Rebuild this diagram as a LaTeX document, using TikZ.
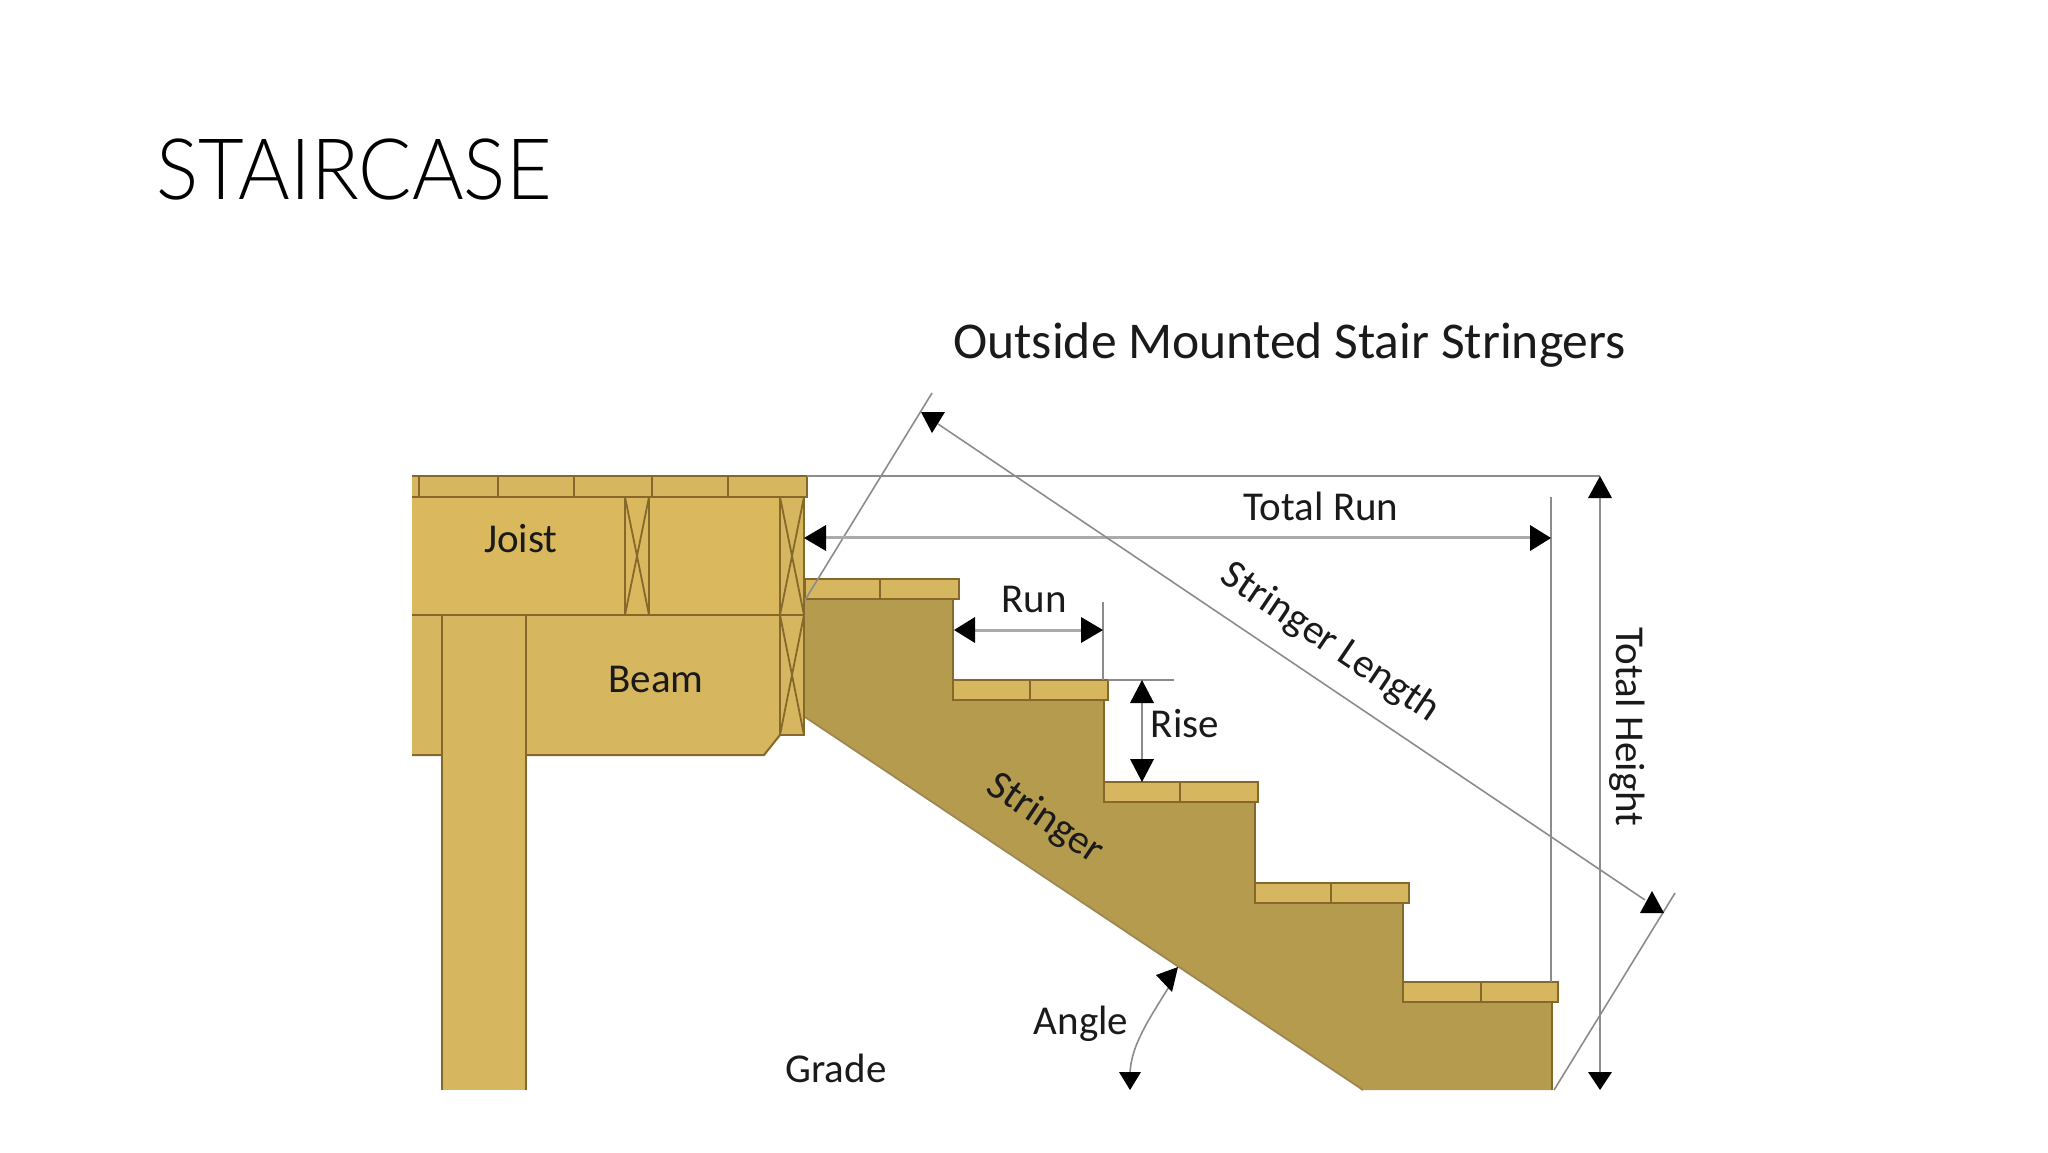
\documentclass[tikz,border=0pt]{standalone}
\usepackage{fontspec}
\setmainfont{Carlito}
\newfontfamily\titlefont{Lato}[UprightFont=* Light,FakeStretch=0.93]
\definecolor{wood}{HTML}{D6B65E}
\definecolor{woodlt}{HTML}{DBB95C}
\definecolor{stringerc}{HTML}{B59B4E}
\definecolor{edge}{HTML}{86692A}
\definecolor{dimc}{HTML}{8C8C8C}
\definecolor{ink}{HTML}{1A1A1A}
\tikzset{
  woodpart/.style={fill=wood,draw=edge,line width=1pt,line join=miter},
  tread/.style={fill=wood,draw=edge,line width=1.1pt},
  stringerpart/.style={fill=stringerc,draw=none},
  seam/.style={draw=edge,line width=0.9pt},
  thindim/.style={draw=dimc,line width=0.8pt},
  thickdim/.style={draw=black!33,line width=1.5pt},
  tip/.style={fill=black,draw=none},
  lbl/.style={text=ink,font=\fontsize{20.5}{20.5}\selectfont,inner sep=0pt},
}
\begin{document}
\begin{tikzpicture}[x=0.5pt,y=-0.5pt]
\useasboundingbox (0,0) rectangle (2048,1152);
\fill[white] (0,0) rectangle (2048,1152);
% title
\node[anchor=base west,inner sep=0pt,text=black,font=\titlefont\fontsize{42.4}{42.4}\selectfont] (title) at (156,199) {STAIRCASE};
\node[lbl,anchor=base west,font=\fontsize{25.8}{25.8}\selectfont] (head) at (953,358) {Outside Mounted Stair Stringers};
% beam, joist, post
\fill[wood] (412,615) rectangle (804,755);
\fill[white] (764,755) -- (780,735) -- (804,735) -- (804,760) -- (764,760) -- cycle;
\fill[woodlt!70!wood] (412,497) rectangle (804,615);
\draw[edge,line width=1pt] (412,755) -- (764,755) -- (780,735);
\fill[wood] (442,615) rectangle (526,1090);
\draw[edge,line width=1pt] (442,1090) -- (442,615) (526,615) -- (526,1090);
\draw[woodpart] (780,497) rectangle (804,735);
\draw[seam] (780,497) -- (804,615) (804,497) -- (780,615) (780,615) -- (804,735) (804,615) -- (780,735);
\draw[edge,line width=1pt] (625,497) -- (625,615) (649,497) -- (649,615);
\draw[seam] (625,497) -- (649,615) (649,497) -- (625,615);
\draw[edge,line width=1pt] (412,615) -- (804,615);
% deck boards
\fill[wood] (412,476) rectangle (807,497);
\draw[edge,line width=1.1pt] (412,497) -- (807,497) -- (807,476) -- (412,476);
\foreach \t in {419,498,574,652,728} \draw[seam] (\t,476) -- (\t,497);
% stringer
\path[stringerpart] (805,598) -- (953,598) -- (953,700) -- (1104,700) -- (1104,801) -- (1255,801) -- (1255,903) -- (1403,903) -- (1403,1003) -- (1552,1003) -- (1552,1090) -- (1363,1090) -- (805,717) -- cycle;
\draw[edge!80,line width=0.9pt] (805,717) -- (1363,1090);
% treads
\foreach \l/\m/\r/\top in {805/880/959/579,953/1030/1108/680,1104/1180/1258/782,1255/1331/1409/883,1403/1481/1558/982}{
  \draw[tread] (\l,\top) rectangle (\r,\top+20);
  \draw[seam] (\m,\top) -- (\m,\top+20);
}
\draw[edge,line width=0.9pt] (953,598) -- (953,680) (1104,700) -- (1104,782) (1255,801) -- (1255,883) (1403,903) -- (1403,982) (1552,1003) -- (1552,1090);
% guides
\coordinate (topL) at (807,476);
\coordinate (topR) at (1600,476);
\coordinate (extA) at (805,600);
\coordinate (extB) at (932,393);
\coordinate (extC) at (1554,1090);
\coordinate (extD) at (1675,893);
\draw[thindim] (topL) -- (topR);
\draw[thindim] (extA) -- (extB);
\draw[thindim] (extC) -- (extD);
\draw[thindim] (1551,497) -- (1551,982);
\draw[thindim] (1103,602) -- (1103,680);
\draw[thindim] (1108,680) -- (1174,680);
% Total run
\draw[thickdim] (820,537) -- (1535,537);
\path[tip] (804,538) -- (826,525) -- (826,551) -- cycle;
\path[tip] (1551,538) -- (1530,525) -- (1530,551) -- cycle;
% Total height
\draw[thindim] (1600,490) -- (1600,1080);
\path[tip] (1600,476) -- (1612,498) -- (1588,498) -- cycle;
\path[tip] (1600,1090) -- (1612,1072) -- (1588,1072) -- cycle;
% Run
\draw[thickdim] (970,630) -- (1085,630);
\path[tip] (954,630) -- (975,617) -- (975,643) -- cycle;
\path[tip] (1103,630) -- (1081,617) -- (1081,643) -- cycle;
% Rise
\draw[thindim] (1142,695) -- (1142,765);
\path[tip] (1142,680) -- (1154,703) -- (1130,703) -- cycle;
\path[tip] (1142,782) -- (1154,759) -- (1130,759) -- cycle;
% stringer length
\draw[thindim] (938,424) -- (1645,900);
\path[tip] (932,433) -- (945,412) -- (921,412) -- cycle;
\path[tip] (1652,891) -- (1664,913) -- (1640,913) -- cycle;
% angle
\draw[thindim] (1170,985) .. controls (1152,1015) and (1130,1045) .. (1130,1075);
\path[tip] (1178,967) -- (1172,992) -- (1156,975) -- cycle;
\path[tip] (1130,1090) -- (1141,1072) -- (1119,1072) -- cycle;
% labels
\node[lbl] (joist) at (521,539) {Joist};
\node[lbl] (beam) at (656,679) {Beam};
\node[lbl] (run) at (1034,599) {Run};
\node[lbl] (rise) at (1185,724) {Rise};
\node[lbl] (trun) at (1321,506) {Total Run};
\node[lbl,rotate=-34] (slen) at (1330,643) {Stringer Length};
\node[lbl,rotate=-90] (theight) at (1627,727) {Total Height};
\node[lbl,rotate=-34] (strg) at (1045,819) {Stringer};
\node[lbl] (angle) at (1081,1024) {Angle};
\node[lbl] (grade) at (836,1068) {Grade};
\end{tikzpicture}
\end{document}
